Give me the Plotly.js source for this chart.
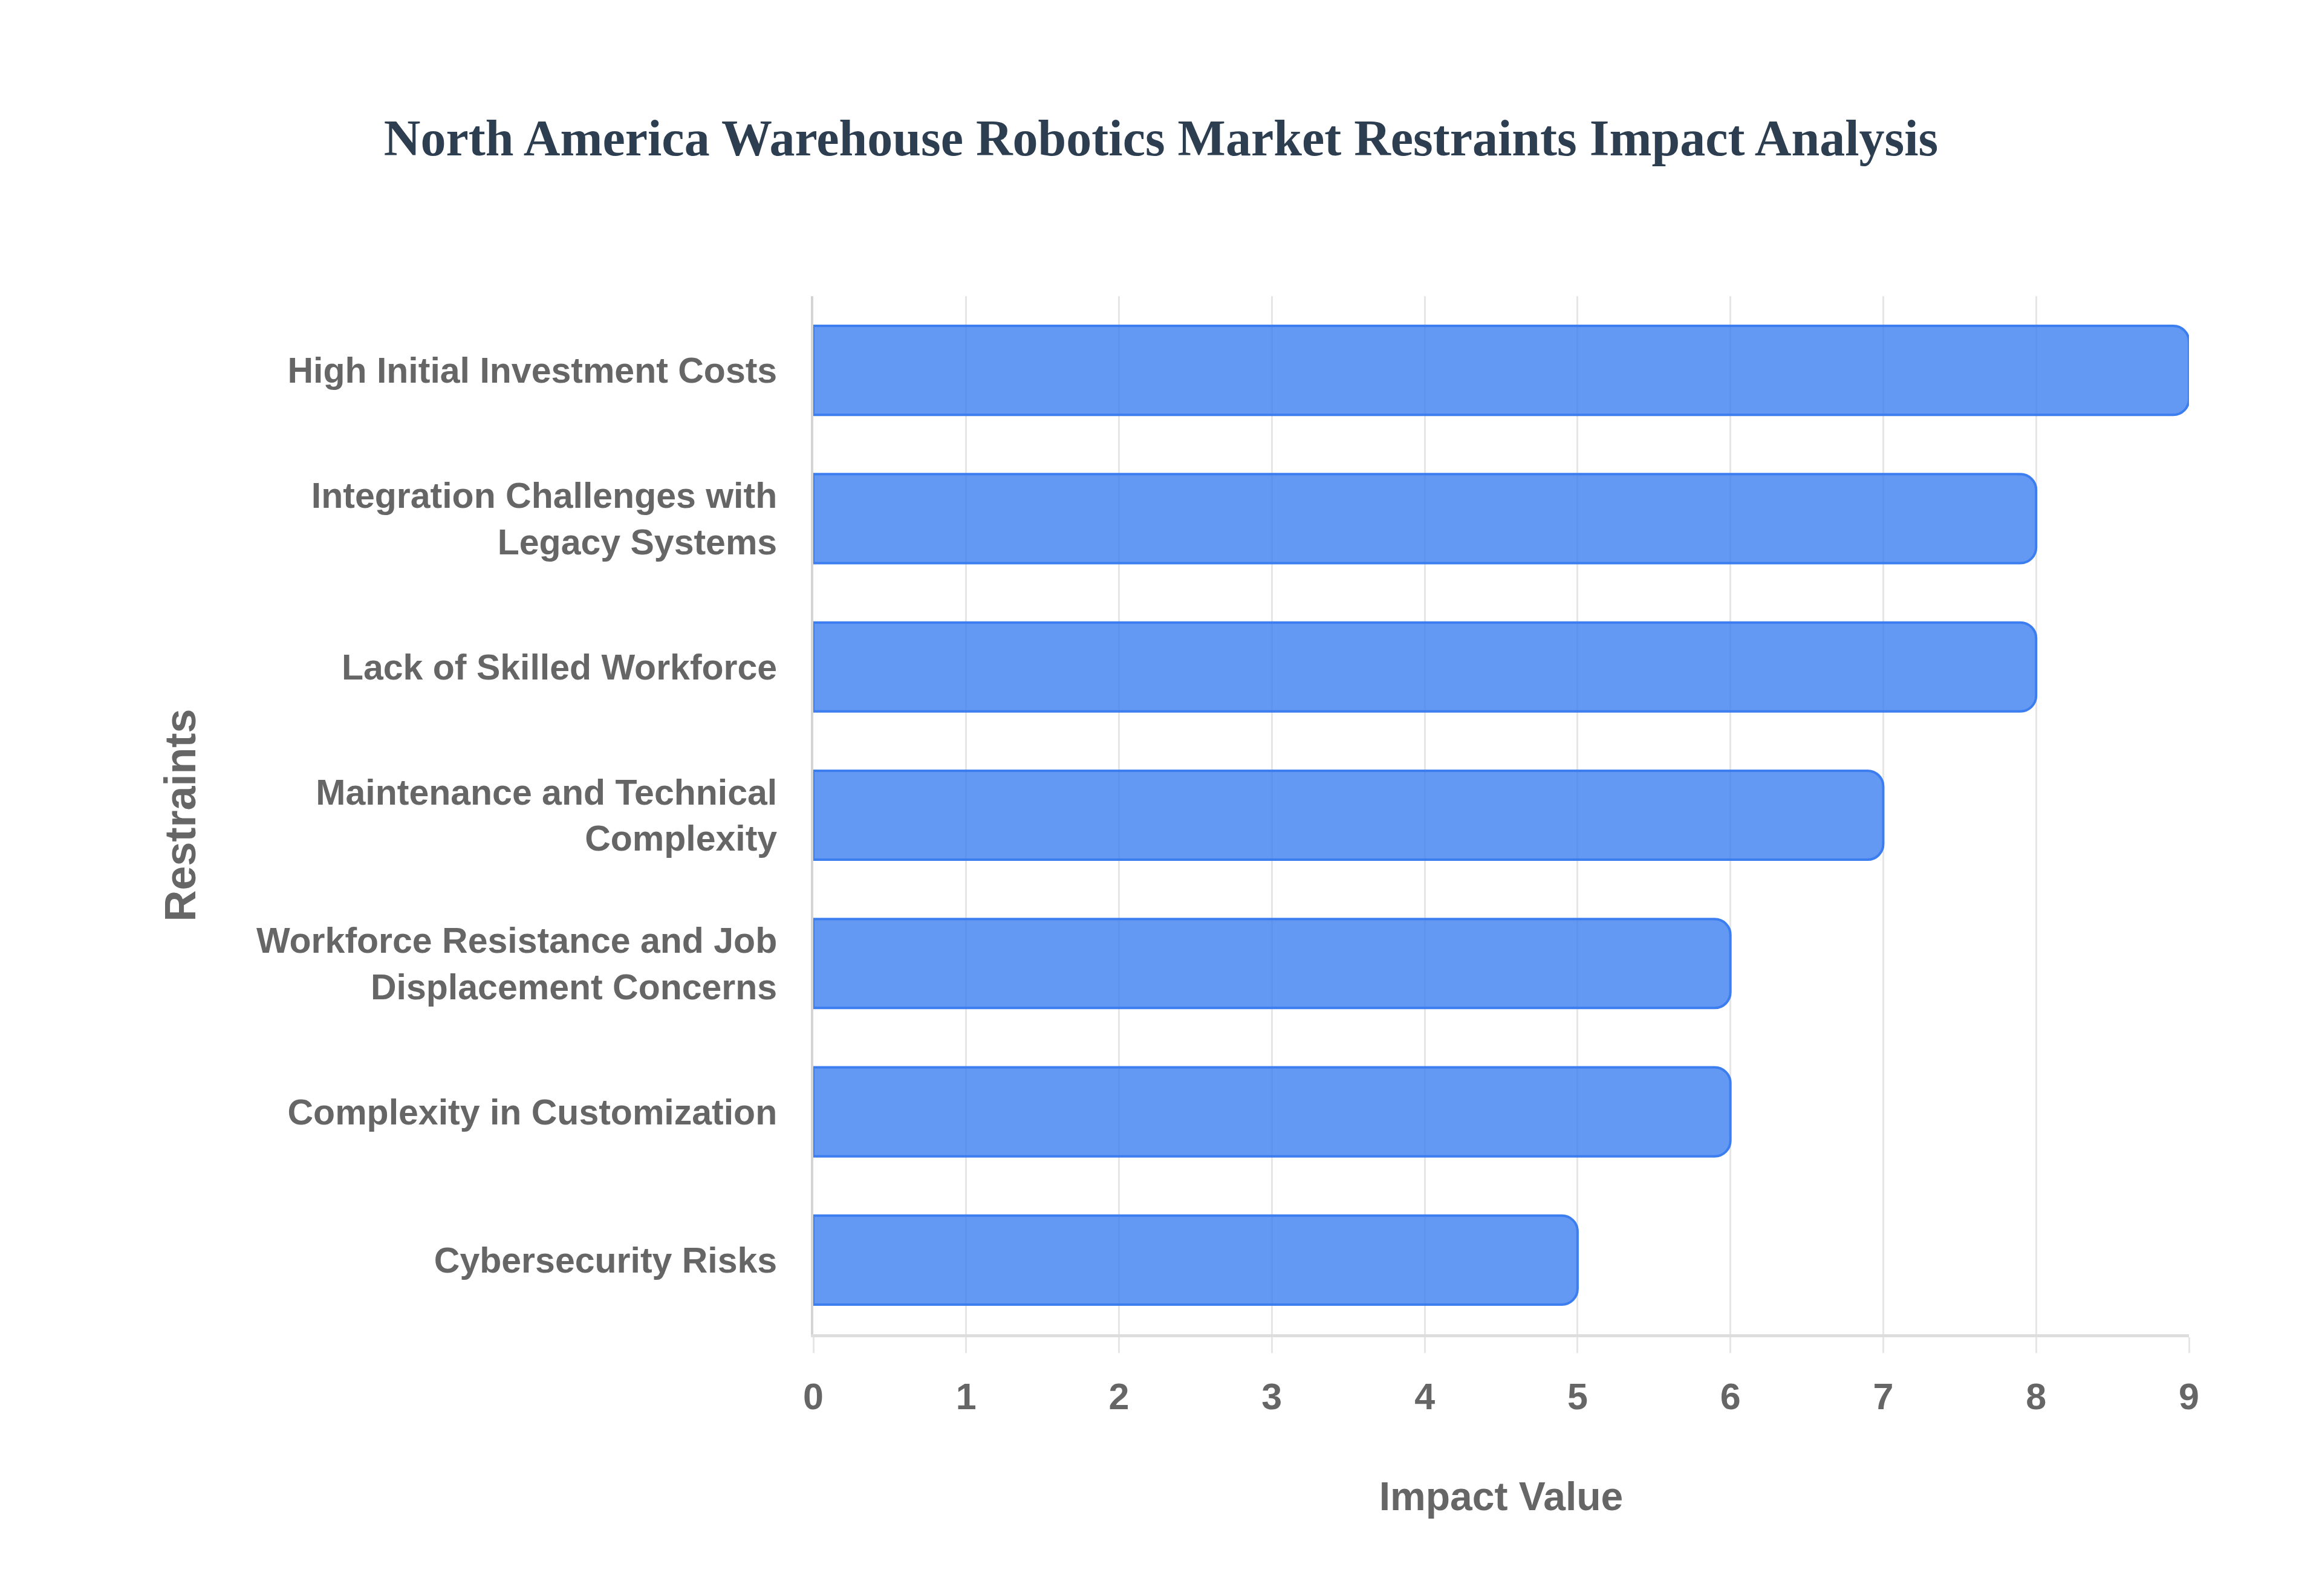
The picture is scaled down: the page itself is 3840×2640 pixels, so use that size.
<!DOCTYPE html>
<html>
<head>
<meta charset="utf-8">
<script src="https://cdn.plot.ly/plotly-3.0.1.min.js"></script>
<style>
  html, body { margin: 0; padding: 0; background: #fff; }
  #chart { width: 3840px; height: 2640px; }
</style>
</head>
<body>
<div id="chart"></div>
<script>
// restraints, top to bottom as shown
const restraints = [
  "High Initial Investment Costs",
  "Integration Challenges with<br>Legacy Systems",
  "Lack of Skilled Workforce",
  "Maintenance and Technical<br>Complexity",
  "Workforce Resistance and Job<br>Displacement Concerns",
  "Complexity in Customization",
  "Cybersecurity Risks"
];
const impactValues = [9, 8, 8, 7, 6, 6, 5];
const xTicks = [0, 1, 2, 3, 4, 5, 6, 7, 8, 9];

const AXIS_FONT = "Arial, 'Liberation Sans', sans-serif";
const GRID = "#e6e6e6";

const traces = [{
  type: "bar",
  orientation: "h",
  x: impactValues,
  y: restraints,
  marker: {
    color: "rgba(60,126,240,0.8)",
    line: { color: "rgb(60,126,240)", width: 4 },
    cornerradius: 26
  },
  hoverinfo: "x+y"
}];

const layout = {
  width: 3840,
  height: 2640,
  margin: { l: 1345, r: 220, t: 490, b: 433 },
  paper_bgcolor: "#ffffff",
  plot_bgcolor: "#ffffff",
  bargap: 0.4,
  showlegend: false,
  title: {
    text: "North America Warehouse Robotics Market Restraints Impact Analysis",
    font: { family: "'Times New Roman', 'Liberation Serif', serif", size: 84, color: "#2c3e50", weight: "bold" },
    x: 0.5, xanchor: "center",
    y: 1 - 228 / 2640, yref: "container", yanchor: "middle"
  },
  xaxis: {
    range: [0, 9],
    tickvals: xTicks,
    ticktext: xTicks.map(String),
    showgrid: true,
    gridcolor: GRID,
    gridwidth: 3,
    zeroline: false,
    showline: true,
    linecolor: "#dddddd",
    linewidth: 5,
    ticks: "outside",
    ticklen: 26,
    tickwidth: 3,
    tickcolor: GRID,
    ticklabelstandoff: 20,
    tickfont: { family: AXIS_FONT, size: 61, color: "#666666", weight: "bold" },
    title: {
      text: "Impact Value",
      standoff: 110,
      font: { family: AXIS_FONT, size: 66, color: "#666666", weight: "bold" }
    }
  },
  yaxis: {
    autorange: "reversed",
    showgrid: false,
    zeroline: false,
    showline: true,
    linecolor: "#d4d4d4",
    linewidth: 4,
    ticks: "",
    ticklabelstandoff: 44,
    tickfont: { family: AXIS_FONT, size: 59, color: "#666666", weight: "bold" },
    title: {
      text: "Restraints",
      standoff: 78,
      font: { family: AXIS_FONT, size: 72, color: "#666666", weight: "bold" }
    }
  }
};

Plotly.newPlot("chart", traces, layout, { displayModeBar: false, responsive: false });
</script>
</body>
</html>
